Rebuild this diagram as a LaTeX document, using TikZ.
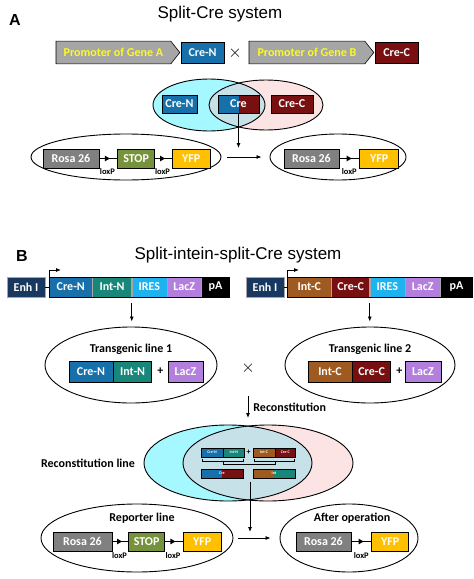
\documentclass[tikz,border=0pt]{standalone}
\usepackage{fontspec}
\usepackage{xcolor}
\usepackage{tikz}
\usetikzlibrary{positioning,arrows.meta,shapes.geometric,backgrounds}
\newfontfamily\cali{Carlito}
\newfontfamily\arial{Liberation Sans}
\definecolor{creblue}{RGB}{24,112,170}
\definecolor{crered}{RGB}{120,16,18}
\definecolor{promgray}{RGB}{166,166,166}
\definecolor{rosagray}{RGB}{128,128,128}
\definecolor{stopgreen}{RGB}{118,146,60}
\definecolor{yfpgold}{RGB}{255,192,0}
\definecolor{cyanbg}{RGB}{165,248,255}
\definecolor{pinkbg}{RGB}{253,228,228}
\definecolor{lensbg}{RGB}{198,225,231}
\definecolor{enhnavy}{RGB}{24,56,96}
\definecolor{intteal}{RGB}{24,134,120}
\definecolor{iresblue}{RGB}{30,178,238}
\definecolor{lacvio}{RGB}{178,128,220}
\definecolor{intbrown}{RGB}{158,90,32}
\definecolor{promyellow}{RGB}{250,250,40}

\begin{document}
\begin{tikzpicture}[x=1pt,y=-1pt,>={Latex[length=5pt,width=4pt]},line width=0.8pt,
    box/.style={draw=black,line width=0.6pt,inner sep=0pt,minimum height=19pt,text=white,
      font=\cali\bfseries\fontsize{12}{12}\selectfont},
    bar/.style={box,draw=black!35,line width=0.3pt,minimum height=20pt},
    tiny/.style={box,line width=0.3pt,minimum height=9pt,font=\cali\bfseries\fontsize{4}{4}\selectfont},
    promoter/.style={anchor=west,minimum height=22pt,inner sep=0pt,text=promyellow,
      font=\cali\bfseries\fontsize{12}{12}\selectfont},
    promline/.style={fill=promgray,draw=black,line width=0.6pt},
    splitbox/.style 2 args={path picture={
      \fill[#1] (path picture bounding box.south west) rectangle (path picture bounding box.north);
      \fill[#2] (path picture bounding box.south) rectangle (path picture bounding box.north east);}},
    ring/.style={draw,ellipse,line width=0.9pt,inner sep=0pt},
    rimline/.style={line width=0.9pt},
    loxp/.style={isosceles triangle,isosceles triangle apex angle=60,fill=black,inner sep=0pt,minimum size=5pt},
    loxlbl/.style={font=\cali\bfseries\fontsize{8.5}{8.5}\selectfont,inner sep=0pt},
    title/.style={font=\arial\fontsize{17}{17}\selectfont},
    panel/.style={font=\arial\bfseries\fontsize{16}{16}\selectfont},
    lbl/.style={inner sep=0pt,font=\cali\bfseries\fontsize{12}{12}\selectfont},
    cross/.style={font=\fontsize{17}{17}\selectfont}]
  \useasboundingbox (0,0) rectangle (474,579);

  % panel A
  \node[panel] (labA) at (15,20) {A};
  \node[title] (titleA) at (220,14) {Split-Cre system};
  \node[promoter,minimum width=114pt] (promA) at (56,52.5) {Promoter of Gene A};
  \node[box,fill=creblue,minimum width=43pt,minimum height=21pt,right=10pt of promA] (creNA) {Cre-N};
  \node[cross] (crossA) at (235,53) {$\times$};
  \node[promoter,minimum width=115pt] (promB) at (249,52.5) {Promoter of Gene B};
  \node[box,fill=crered,minimum width=43pt,minimum height=21pt,right=10pt of promB] (creCA) {Cre-C};
  \begin{scope}[on background layer]
    \filldraw[promline] (promA.north west) -- (promA.north east) -- ([xshift=9pt]promA.east)
      -- (promA.south east) -- (promA.south west) -- cycle;
    \filldraw[promline] (promB.north west) -- (promB.north east) -- ([xshift=9pt]promB.east)
      -- (promB.south east) -- (promB.south west) -- cycle;
  \end{scope}

  \fill[cyanbg] (209,105) ellipse [x radius=56,y radius=26];
  \fill[pinkbg] (266,105) ellipse [x radius=57,y radius=25];
  \begin{scope}
    \clip (209,105) ellipse [x radius=56,y radius=26];
    \fill[lensbg] (266,105) ellipse [x radius=57,y radius=25];
  \end{scope}
  \draw[rimline] (209,105) ellipse [x radius=56,y radius=26];
  \draw[rimline] (266,105) ellipse [x radius=57,y radius=25];
  \node[box,fill=creblue,minimum width=35pt,minimum height=18pt] (creNin) at (179.5,104) {Cre-N};
  \node[box,splitbox={creblue}{crered},minimum width=41pt,minimum height=18pt] (creA) at (238.5,104) {Cre};
  \node[box,fill=crered,minimum width=42pt,minimum height=18pt] (creCin) at (292,104) {Cre-C};
  \coordinate (downA) at (238.5,148);
  \draw[->] (creA.south) -- (downA);

  \node[ring,minimum width=190pt,minimum height=46pt] (repA) at (126,157) {};
  \node[box,fill=rosagray,minimum width=56pt] (rosaA) at (71,158.5) {Rosa 26};
  \node[box,fill=stopgreen,minimum width=37pt,right=18pt of rosaA] (stopA) {STOP};
  \node[box,fill=yfpgold,minimum width=38pt,right=17pt of stopA] (yfpA) {YFP};
  \draw (rosaA) -- node[loxp,pos=.4] (loxA1) {} coordinate[pos=.45] (lxA1) (stopA);
  \draw (stopA) -- node[loxp,pos=.4] (loxA2) {} coordinate[pos=.45] (lxA2) (yfpA);
  \node[loxlbl,below=9.5pt of lxA1] (loxA1lbl) {loxP};
  \node[loxlbl,below=9.5pt of lxA2] (loxA2lbl) {loxP};
  \node[ring,minimum width=136pt,minimum height=46pt] (opA) at (338,157) {};
  \node[box,fill=rosagray,minimum width=55pt] (rosaA2) at (311.5,158.5) {Rosa 26};
  \node[box,fill=yfpgold,minimum width=39pt,right=20pt of rosaA2] (yfpA2) {YFP};
  \draw (rosaA2) -- node[loxp,pos=.45] (loxA3) {} coordinate[pos=.5] (lxA3) (yfpA2);
  \node[loxlbl,below=9.5pt of lxA3] (loxA3lbl) {loxP};
  \draw[->,shorten <=6pt,shorten >=8pt] (repA) -- (opA);

  % panel B
  \node[panel] (labB) at (22,256) {B};
  \node[title] (titleB) at (238,255) {Split-intein-split-Cre system};

  \node[bar,fill=enhnavy,minimum width=38pt] (enh1) at (26,287) {Enh I};
  \node[bar,fill=creblue,minimum width=43pt,right=4pt of enh1] (creN1) {Cre-N};
  \node[bar,fill=intteal,minimum width=39pt,right=0pt of creN1] (intN1) {Int-N};
  \node[bar,fill=iresblue,minimum width=35pt,right=0pt of intN1] (ires1) {IRES};
  \node[bar,fill=lacvio,minimum width=34pt,right=0pt of ires1] (lacZ1) {LacZ};
  \node[bar,fill=black,minimum width=28pt,right=0pt of lacZ1] (pA1) {pA};
  \draw[line width=0.6pt] (enh1) -- (creN1);
  \draw[line width=0.6pt] (creN1.north west) rectangle (pA1.south east);
  \coordinate (tss1) at (61,270);
  \draw[->] (creN1.north west) |- (tss1);

  \node[bar,fill=enhnavy,minimum width=38pt] (enh2) at (265,287) {Enh I};
  \node[bar,fill=intbrown,minimum width=44pt,right=3pt of enh2] (intC2) {Int-C};
  \node[bar,fill=crered,minimum width=38pt,right=0pt of intC2] (creC2) {Cre-C};
  \node[bar,fill=iresblue,minimum width=35pt,right=0pt of creC2] (ires2) {IRES};
  \node[bar,fill=lacvio,minimum width=35pt,right=0pt of ires2] (lacZ2) {LacZ};
  \node[bar,fill=black,minimum width=32pt,right=0pt of lacZ2] (pA2) {pA};
  \draw[line width=0.6pt] (enh2) -- (intC2);
  \draw[line width=0.6pt] (intC2.north west) rectangle (pA2.south east);
  \coordinate (tss2) at (299,270);
  \draw[->] (intC2.north west) |- (tss2);

  \node[ring,minimum width=172pt,minimum height=76pt] (tg1) at (131,365) {};
  \node[lbl] (tg1lbl) at (131,349) {Transgenic line 1};
  \node[box,fill=creblue,minimum width=44pt,minimum height=21pt] (creN3) at (91,371.5) {Cre-N};
  \node[box,fill=intteal,minimum width=38pt,minimum height=21pt,right=0pt of creN3] (intN3) {Int-N};
  \node[lbl,right=5pt of intN3] (plus1) {+};
  \node[box,fill=lacvio,minimum width=35pt,minimum height=21pt,right=4pt of plus1] (lacZ3) {LacZ};

  \node[ring,minimum width=170pt,minimum height=76pt] (tg2) at (370,365) {};
  \node[lbl] (tg2lbl) at (370,349) {Transgenic line 2};
  \node[box,fill=intbrown,minimum width=44pt,minimum height=21pt] (intC4) at (330,371.5) {Int-C};
  \node[box,fill=crered,minimum width=38pt,minimum height=21pt,right=0pt of intC4] (creC4) {Cre-C};
  \node[lbl,right=5pt of creC4] (plus2) {+};
  \node[box,fill=lacvio,minimum width=36pt,minimum height=21pt,right=2pt of plus2] (lacZ4) {LacZ};

  \draw[->,shorten <=6pt,shorten >=5pt] (intN1.south east) -- (intN1.south east |- tg1.north);
  \draw[->,shorten <=6pt,shorten >=5pt] (creC2.south east) -- (creC2.south east |- tg2.north);
  \node[cross] (crossB) at (248,368) {$\times$};

  \coordinate (recTop) at (248,396);
  \coordinate (recBot) at (248,418);
  \draw[->] (recTop) -- (recBot);
  \node[lbl,anchor=west] (recLbl) at (253,407) {Reconstitution};

  \fill[cyanbg] (228,463) ellipse [x radius=84,y radius=38];
  \fill[pinkbg] (268,463) ellipse [x radius=85,y radius=38];
  \begin{scope}
    \clip (228,463) ellipse [x radius=84,y radius=38];
    \fill[lensbg] (268,463) ellipse [x radius=85,y radius=38];
  \end{scope}
  \draw[rimline] (228,463) ellipse [x radius=84,y radius=38];
  \draw[rimline] (268,463) ellipse [x radius=85,y radius=38];
  \node[lbl] (recLine) at (88,463) {Reconstitution line};

  \node[tiny,fill=creblue,minimum width=22pt] (sCreN) at (212,452.5) {Cre-N};
  \node[tiny,fill=intteal,minimum width=21pt,right=0pt of sCreN] (sIntN) {Int-N};
  \node[lbl,font=\cali\bfseries\fontsize{8}{8}\selectfont] (sPlus) at (248.5,452.5) {+};
  \node[tiny,fill=intbrown,minimum width=22pt] (sIntC) at (264,452.5) {Int-C};
  \node[tiny,fill=crered,minimum width=20pt,right=0pt of sIntC] (sCreC) {Cre-C};
  \draw[line width=0.4pt] ([shift={(1pt,-2pt)}]sCreN.south west) -- ++(0pt,-2pt) -| ([shift={(-1pt,-2pt)}]sIntN.south east);
  \draw[line width=0.4pt] ([shift={(1pt,-2pt)}]sIntC.south west) -- ++(0pt,-2pt) -| ([shift={(-1pt,-2pt)}]sCreC.south east);
  \draw[line width=0.4pt] ([yshift=-4pt]sCreN.south east) -- ++(0pt,-3pt) -| ([yshift=-4pt]sIntC.south east);
  \node[tiny,splitbox={creblue}{crered},minimum width=42pt] (sCre) at (222,473.5) {Cre};
  \node[tiny,splitbox={intbrown}{intteal},minimum width=42pt] (sInt) at (274,473.5) {Int};

  \coordinate (recOut) at (250,482);
  \coordinate (repIn) at (250,532);
  \draw[->] (recOut) -- (repIn);

  \node[ring,minimum width=192pt,minimum height=68pt] (repB) at (137,538) {};
  \node[lbl] (repLbl) at (142,518) {Reporter line};
  \node[box,fill=rosagray,minimum width=59pt] (rosaB) at (82.5,541.5) {Rosa 26};
  \node[box,fill=stopgreen,minimum width=36pt,right=16pt of rosaB] (stopB) {STOP};
  \node[box,fill=yfpgold,minimum width=38pt,right=18pt of stopB] (yfpB) {YFP};
  \draw (rosaB) -- node[loxp,pos=.4] (loxB1) {} coordinate[pos=.45] (lxB1) (stopB);
  \draw (stopB) -- node[loxp,pos=.4] (loxB2) {} coordinate[pos=.45] (lxB2) (yfpB);
  \node[loxlbl,below=11pt of lxB1] (loxB1lbl) {loxP};
  \node[loxlbl,below=11pt of lxB2] (loxB2lbl) {loxP};
  \node[ring,minimum width=138pt,minimum height=68pt] (opB) at (349,538) {};
  \node[lbl] (opLbl) at (352,518) {After operation};
  \node[box,fill=rosagray,minimum width=55pt] (rosaB2) at (323.5,541.5) {Rosa 26};
  \node[box,fill=yfpgold,minimum width=37pt,right=20pt of rosaB2] (yfpB2) {YFP};
  \draw (rosaB2) -- node[loxp,pos=.45] (loxB3) {} coordinate[pos=.5] (lxB3) (yfpB2);
  \node[loxlbl,below=11pt of lxB3] (loxB3lbl) {loxP};
  \draw[->,shorten <=5pt,shorten >=9pt] (repB) -- (opB);
\end{tikzpicture}
\end{document}
